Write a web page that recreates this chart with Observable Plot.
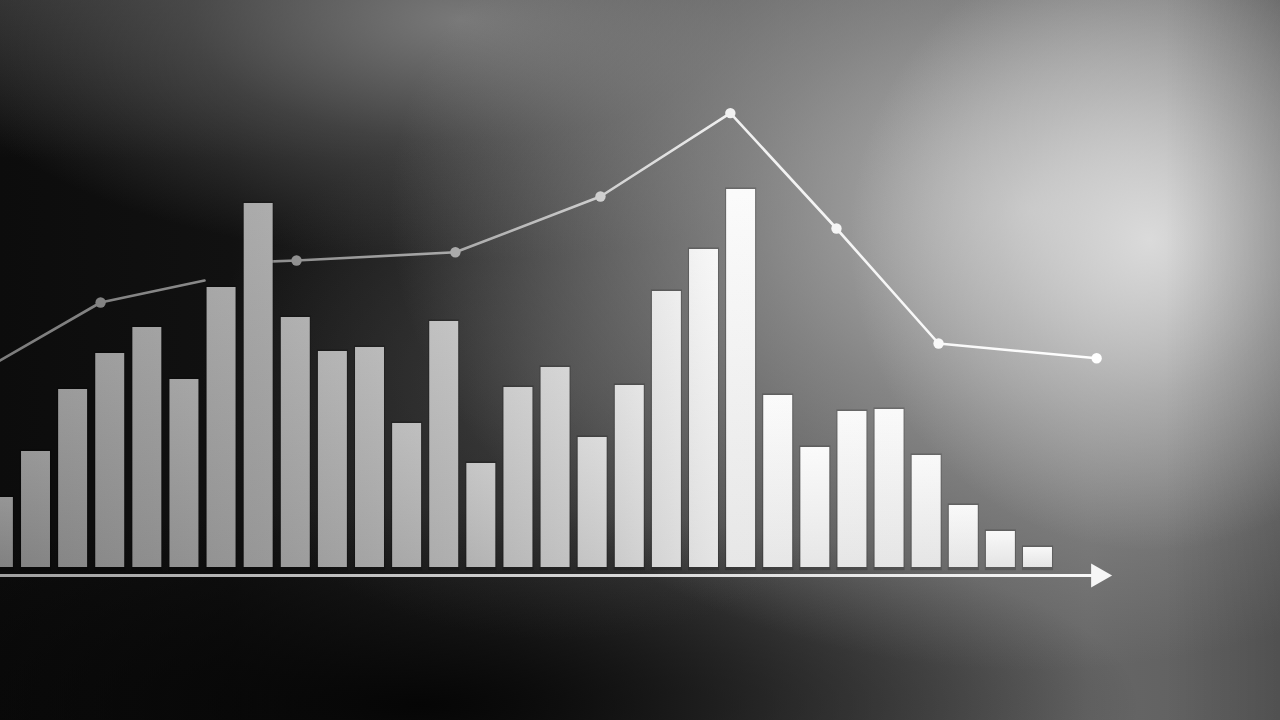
<!DOCTYPE html>
<html>
<head>
<meta charset="utf-8">
<script src="https://cdn.jsdelivr.net/npm/d3@7"></script>
<script src="https://cdn.jsdelivr.net/npm/@observablehq/plot@0.6"></script>
<style>
  html, body { margin: 0; padding: 0; width: 1280px; height: 720px; overflow: hidden; }
  body {
    background:
      linear-gradient(to left, rgba(0,0,0,0.14) 0%, rgba(0,0,0,0) 9%),
      radial-gradient(ellipse 300px 310px at 1150px 240px, rgba(228,228,228,0.85) 0%, rgba(215,215,215,0.45) 50%, rgba(200,200,200,0) 100%),
      radial-gradient(ellipse 640px 460px at 1030px 210px, rgba(188,188,188,0.95) 0%, rgba(160,160,160,0.65) 45%, rgba(130,130,130,0) 100%),
      radial-gradient(ellipse 540px 240px at 460px 20px, rgba(128,128,128,0.9) 0%, rgba(100,100,100,0.5) 50%, rgba(90,90,90,0) 100%),
      radial-gradient(ellipse 360px 260px at 560px 380px, rgba(80,80,80,0.5) 0%, rgba(80,80,80,0) 100%),
      radial-gradient(ellipse 720px 200px at 420px 705px, rgba(4,4,4,0.95) 0%, rgba(4,4,4,0) 100%),
      linear-gradient(to bottom, rgba(70,70,70,0.55) 0%, rgba(70,70,70,0) 22%),
      linear-gradient(to right, #0c0c0c 0%, #111 18%, #282828 40%, #4a4a4a 62%, #666 85%, #5e5e5e 100%);
  }
  #chart svg { display: block; background: transparent; }
</style>
</head>
<body>
<div id="chart"></div>
<script>
// Bar values (29 bars, index 0..28)
const barIndex = d3.range(29);
const barValues = [17.5, 29, 44.5, 53.5, 60, 47, 70, 91, 62.5, 54, 55, 36, 61.5, 26, 45, 50, 32.5, 45.5, 69, 79.5, 94.5, 43, 30, 39, 39.5, 28, 15.5, 9, 5];

// Trend line (positions on the bar-index axis); null breaks the line
const lineX = [-0.5, 2.74, 5.54, null, 7.05, 8.02, 12.30, 16.21, 19.71, 22.57, 25.32, 29.58];
const lineY = [48.9, 66.25, 71.75, null, 76.4, 76.75, 78.8, 92.75, 113.6, 84.75, 56, 52.3];
const dotMask = [false, true, false, false, false, true, true, true, true, true, true, true];

// Axis (baseline arrow)
const axisStart = -1;
const axisEnd = 29.47;
const arrowTip = 29.62;
const axisLevel = -2;

const bars = barIndex.map((i) => ({i, v: barValues[i]}));
const linePts = lineX.map((x, k) => ({x: x == null ? NaN : x, y: lineY[k] == null ? NaN : lineY[k], dot: dotMask[k]}));
const dots = linePts.filter((d) => d.dot);

const defs = () => {
  const svgNS = "http://www.w3.org/2000/svg";
  const g = document.createElementNS(svgNS, "defs");
  g.innerHTML = `
    <filter id="soft" x="-50%" y="-10%" width="200%" height="120%">
      <feGaussianBlur stdDeviation="3.5"/>
    </filter>
    <linearGradient id="barGrad" gradientUnits="userSpaceOnUse" x1="0" y1="0" x2="1280" y2="0">
      <stop offset="0" stop-color="#8c8c8c"/>
      <stop offset="0.2" stop-color="#a4a4a4"/>
      <stop offset="0.35" stop-color="#bdbdbd"/>
      <stop offset="0.47" stop-color="#d8d8d8"/>
      <stop offset="0.57" stop-color="#fbfbfb"/>
      <stop offset="1" stop-color="#f5f5f5"/>
    </linearGradient>
    <linearGradient id="vShade" x1="0" y1="0" x2="0" y2="1">
      <stop offset="0" stop-color="#fff" stop-opacity="0.08"/>
      <stop offset="1" stop-color="#000" stop-opacity="0.08"/>
    </linearGradient>
    <linearGradient id="lineGrad" gradientUnits="userSpaceOnUse" x1="0" y1="0" x2="1100" y2="0">
      <stop offset="0" stop-color="#7c7c7c"/>
      <stop offset="0.25" stop-color="#8e8e8e"/>
      <stop offset="0.42" stop-color="#ababab"/>
      <stop offset="0.66" stop-color="#f0f0f0"/>
      <stop offset="1" stop-color="#ffffff"/>
    </linearGradient>
    <linearGradient id="axisGrad" gradientUnits="userSpaceOnUse" x1="0" y1="0" x2="1110" y2="0">
      <stop offset="0" stop-color="#a0a0a0"/>
      <stop offset="0.5" stop-color="#d4d4d4"/>
      <stop offset="1" stop-color="#fafafa"/>
    </linearGradient>`;
  return g;
};

const chart = Plot.plot({
  width: 1280,
  height: 720,
  margin: 0,
  x: {type: "linear", domain: [0, 28], range: [-1.6, 1037.5], axis: null},
  y: {type: "linear", domain: [0, 140], range: [567, 7], axis: null},
  marks: [
    defs,
    // trend line (behind bars)
    Plot.line(linePts, {x: "x", y: "y", stroke: "url(#lineGrad)", strokeWidth: 2.6, curve: "linear"}),
    Plot.dot(dots, {x: "x", y: "y", r: 5.2, fill: "url(#lineGrad)", stroke: "none"}),
    // soft bar shadows
    Plot.rectY(bars, {x1: (d) => d.i - 0.42, x2: (d) => d.i + 0.42, y1: -0.8, y2: (d) => d.v + 0.4, fill: "#000", fillOpacity: 0.18, ariaLabel: "shadow"}),
    // bars
    Plot.rectY(bars, {x1: (d) => d.i - 0.39, x2: (d) => d.i + 0.39, y1: 0, y2: "v", fill: "url(#barGrad)"}),
    Plot.rectY(bars, {x1: (d) => d.i - 0.39, x2: (d) => d.i + 0.39, y1: 0, y2: "v", fill: "url(#vShade)"}),
    // axis arrow
    Plot.ruleY([axisLevel], {x1: axisStart, x2: axisEnd, stroke: "url(#axisGrad)", strokeWidth: 3}),
    Plot.dot([{x: arrowTip, y: axisLevel}], {x: "x", y: "y", symbol: "triangle", r: 9, rotate: 90, fill: "#f6f6f6", stroke: "none"})
  ]
});

const sh = chart.querySelector('g[aria-label="shadow"]');
if (sh) sh.setAttribute("filter", "url(#soft)");
document.getElementById("chart").appendChild(chart);
</script>
</body>
</html>
